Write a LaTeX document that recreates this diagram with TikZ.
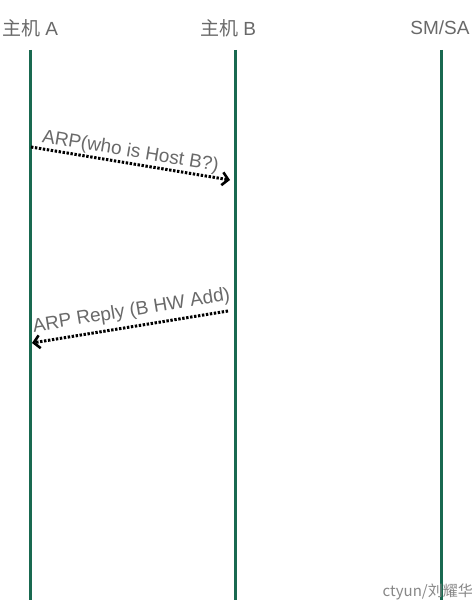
\documentclass[tikz,border=0pt]{standalone}
\usepackage{fontspec}
\setmainfont{Liberation Sans}
\newfontfamily\cjk{Noto Sans CJK SC}
\usepackage{tikz}
\usetikzlibrary{arrows.meta}
\definecolor{lifeGreen}{RGB}{25,105,80}
\definecolor{textGray}{RGB}{105,105,105}

\begin{document}
\begin{tikzpicture}[x=1pt,y=-1pt,
        host/.style = {text=textGray,
            font=\fontsize{19}{22}\selectfont,
            inner sep=0pt},
        lifeline/.style = {draw=lifeGreen,
            line width=3pt},
        msg/.style = {draw=black,
            line width=3pt,
            dash pattern=on 2.4pt off 1.6pt,
            -{Straight Barb[length=6pt,width=13pt,line width=2.6pt]}},
        msglabel/.style = {text=textGray,
            font=\fontsize{19}{22}\selectfont,
            sloped, above, inner sep=1pt}]

        \useasboundingbox (0,0) rectangle (474,609);

        % Hosts
        \node[host] (A) at (30,28) {{\cjk 主机} A};
        \node[host] (B) at (228,28) {{\cjk 主机} B};
        \node[host] (S) at (440,28) {SM/SA};

        % Lifelines
        \coordinate (A top) at (30,50);
        \coordinate (A bot) at (30,600);
        \coordinate (B top) at (235,50);
        \coordinate (B bot) at (235,600);
        \coordinate (S top) at (441,50);
        \coordinate (S bot) at (441,600);
        \draw[lifeline] (A top) -- (A bot);
        \draw[lifeline] (B top) -- (B bot);
        \draw[lifeline] (S top) -- (S bot);

        % ARP request
        \coordinate (req A) at (31,147);
        \coordinate (req B) at (230,180);
        \draw[msg] (req A) -- node[msglabel,pos=0.49] {ARP(who is Host B?)} (req B);

        % ARP reply
        \coordinate (rep B) at (228,311);
        \coordinate (rep A) at (32,343);
        \draw[msg] (rep B) -- node[msglabel,pos=0.48,yshift=4pt] {ARP Reply (B HW Add)} (rep A);

        % Watermark
        \node[text=textGray!80, font=\cjk\fontsize{15}{17}\selectfont,
            anchor=south east, inner sep=0pt] (mark) at (473,600) {ctyun/刘耀华};

    \end{tikzpicture}
\end{document}
